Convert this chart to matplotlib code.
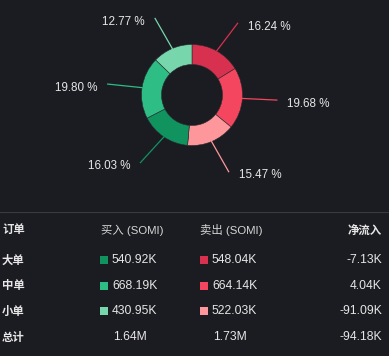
import numpy as np
import matplotlib.pyplot as plt

plt.rcParams['font.family'] = ['Liberation Sans', 'Noto Sans CJK SC', 'DejaVu Sans']

bg = '#1b1c21'
txt = '#e6e6e6'

# donut data (sell big/mid/small, buy big/mid/small), unit K
sell = [548.04, 664.14, 522.03]
buy = [540.92, 668.19, 430.95]
sell_colors = ['#d8304f', '#f4465f', '#fe979c']
buy_colors = ['#10935f', '#2dbd85', '#77d6ab']

rows = ['大单', '中单', '小单']
buy_lbl = ['540.92K', '668.19K', '430.95K']
sell_lbl = ['548.04K', '664.14K', '522.03K']
net_lbl = ['-7.13K', '4.04K', '-91.09K']
headers = ['订单', '买入 (SOMI)', '卖出 (SOMI)', '净流入']
total = ['总计', '1.64M', '1.73M', '-94.18K']

W, H = 389, 356
fig = plt.figure(figsize=(W / 100, H / 100), dpi=100, facecolor=bg)
ax = fig.add_axes([0, 0, 1, 1])
ax.set_facecolor(bg)

vals = sell + buy
cols = sell_colors + buy_colors
cx, cy, R = 192, H - 95, 50.5
wedges, _ = ax.pie(vals, colors=cols, startangle=90, counterclock=False,
                   center=(cx, cy), radius=R,
                   wedgeprops=dict(width=20, linewidth=0.4, edgecolor='#2a2b30'))
ax.set_xlim(0, W)
ax.set_ylim(0, H)
ax.axis('off')

tot = sum(vals)
for w, v, c in zip(wedges, vals, cols):
    a = np.deg2rad((w.theta1 + w.theta2) / 2)
    x0, y0 = cx + R * np.cos(a), cy + R * np.sin(a)
    b = np.arctan2(np.sin(a) * 0.88, np.cos(a))
    x1, y1 = cx + 85 * np.cos(b), cy + 85 * np.sin(b)
    ax.plot([x0, x1], [y0, y1], color=c, lw=0.9)
    s = '%.2f %%' % (v / tot * 100)
    if np.cos(a) >= 0:
        ax.text(x1 + 10, y1 - 3.5, s, ha='left', va='center', color=txt, fontsize=8.4)
    else:
        ax.text(x1 - 10, y1 - 3.5, s, ha='right', va='center', color=txt, fontsize=8.4)

# separator
ax.plot([0, W], [H - 212, H - 212], color='#3a3b41', lw=0.8)

fs = 8.7
fc = 8.2
hy = H - 230
ax.text(2, hy, headers[0], color=txt, fontsize=fc, va='center', fontweight='bold')
ax.text(101, hy, headers[1], color='#d6d6d6', fontsize=fc, va='center')
ax.text(200, hy, headers[2], color='#d6d6d6', fontsize=fc, va='center')
ax.text(382, hy, headers[3], color=txt, fontsize=fc, va='center', ha='right', fontweight='bold')

ys = [H - 260, H - 286, H - 311]
for i, y in enumerate(ys):
    ax.text(2, y, rows[i], color=txt, fontsize=fc, va='center', fontweight='bold')
    ax.scatter([104], [y], marker='s', s=26, color=buy_colors[i], linewidths=0)
    ax.text(112, y, buy_lbl[i], color=txt, fontsize=fs, va='center')
    ax.scatter([204], [y], marker='s', s=26, color=sell_colors[i], linewidths=0)
    ax.text(212, y, sell_lbl[i], color=txt, fontsize=fs, va='center')
    ax.text(382, y, net_lbl[i], color=txt, fontsize=fs, va='center', ha='right')

ty = H - 337
ax.text(2, ty, total[0], color=txt, fontsize=fc, va='center', fontweight='bold')
ax.text(113, ty, total[1], color=txt, fontsize=fs, va='center')
ax.text(213, ty, total[2], color=txt, fontsize=fs, va='center')
ax.text(382, ty, total[3], color=txt, fontsize=fs, va='center', ha='right')

fig.savefig('out.png', dpi=100, facecolor=bg)
